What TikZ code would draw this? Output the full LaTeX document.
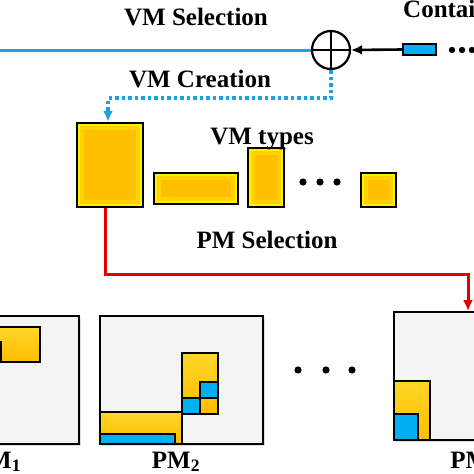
\documentclass[tikz,border=0pt]{standalone}
\usepackage{fontspec}
\setmainfont{Liberation Serif}
\usetikzlibrary{arrows.meta,shadows}
\definecolor{lineblue}{RGB}{30,160,225}
\definecolor{boxblue}{RGB}{0,176,240}
\definecolor{linkred}{RGB}{228,0,0}
\definecolor{vmedge}{RGB}{255,240,0}
\definecolor{vmmid}{RGB}{255,210,0}
\definecolor{vmcore}{RGB}{255,190,0}
\definecolor{vmlight}{RGB}{255,214,40}
\definecolor{pmgray}{RGB}{244,244,244}
\begin{document}
\begin{tikzpicture}[>={Latex[length=11pt,width=10pt]},x=1pt,y=-1pt,
  lbl/.style={font=\bfseries\fontsize{25}{29}\selectfont,inner sep=0pt,anchor=base},
  vmbox/.style={draw,line width=2.4pt,fill=vmedge,inner sep=0pt,
    path picture={
      \fill[vmmid] ([shift={(3pt,-3pt)}]path picture bounding box.north west)
        rectangle ([shift={(-3pt,3pt)}]path picture bounding box.south east);
      \fill[vmcore] ([shift={(7pt,-7pt)}]path picture bounding box.north west)
        rectangle ([shift={(-7pt,7pt)}]path picture bounding box.south east);}},
  pmbox/.style={draw,line width=1.8pt,fill=pmgray,inner sep=0pt,
    minimum width=163pt,minimum height=128pt,
    drop shadow={opacity=0.25,shadow xshift=2pt,shadow yshift=-2pt}},
  pmvm/.style={draw,line width=2.2pt,top color=vmlight,bottom color=vmcore},
  pmblue/.style={draw,line width=2.2pt,fill=boxblue}]
\useasboundingbox (0,0) rectangle (474,474);
\clip (0,0) rectangle (474,474);

% top row
\node[lbl] (vmsel) at (196,25) {VM Selection};
\node[lbl,anchor=base west] (cont lbl) at (403,17) {Container};
\node[circle,draw,line width=2.2pt,minimum size=38pt,inner sep=0pt] (sum) at (331,50) {};
\draw[line width=2pt] (sum.north) -- (sum.south) (sum.west) -- (sum.east);
\node[draw,line width=1.6pt,fill=boxblue,minimum width=33pt,minimum height=11pt,inner sep=0pt] (cont) at (419.5,49.5) {};
\foreach \x in {452,462,472}
{
    \fill(\x,50)circle(3.2pt);
}
\coordinate (left) at (0,50);
\draw[lineblue,line width=3pt] (left) -- (sum.west);
\draw[->,line width=2.6pt] (cont.west) -- (sum.east);

% VM types
\node[lbl] (vmcre) at (200,87) {VM Creation};
\node[vmbox,minimum width=66pt,minimum height=84pt] (vm1) at (110,165) {};
\node[vmbox,minimum width=84pt,minimum height=31pt] (vm2) at (196,188.5) {};
\node[vmbox,minimum width=36pt,minimum height=59pt] (vm3) at (266,177.5) {};
\node[vmbox,minimum width=35pt,minimum height=34pt] (vm4) at (378.5,190) {};
\node[lbl] (vmtypes) at (262,144) {VM types};
\foreach \x in {303,320,337}
{
    \fill(\x,182)circle(3.6pt);
}
\draw[lineblue,line width=3.5pt,dash pattern=on 3.5pt off 3pt,->] (sum.south) -- ++(0,28) -| ([xshift=-2pt]vm1.north);

% PMs
\node[lbl] (pmsel) at (267,248) {PM Selection};
\node[pmbox] (pm1) at (-2.5,380) {};
\node[pmbox] (pm2) at (181.5,380) {};
\node[pmbox] (pmn) at (475.5,376) {};
\draw[linkred,line width=3pt,->] ([xshift=-5pt]vm1.south) -- ++(0,66) -| ([xshift=-7.5pt]pmn.north);

\draw[pmvm] (-40,327) rectangle (40,362);
\draw[pmblue] (-30,342) rectangle (1,362);

\draw[pmvm] (100,412) rectangle (182,444);
\draw[pmblue] (100,434) rectangle (175,444);
\draw[pmvm] (182,353) rectangle (218,414);
\draw[pmblue] (200,382) rectangle (218,398);
\draw[pmblue] (182,398) rectangle (200,414);

\draw[pmvm] (394,381) rectangle (430,440);
\draw[pmblue] (394,414) rectangle (418,440);

\foreach \x in {298,326,352}
{
    \fill(\x,370)circle(3.6pt);
}
\node[lbl] (pm1 lbl) at (-3,468) {PM\textsubscript{1}};
\node[lbl] (pm2 lbl) at (176,468) {PM\textsubscript{2}};
\node[lbl] (pmn lbl) at (475,468) {PM\textsubscript{n}};

\end{tikzpicture}
\end{document}
